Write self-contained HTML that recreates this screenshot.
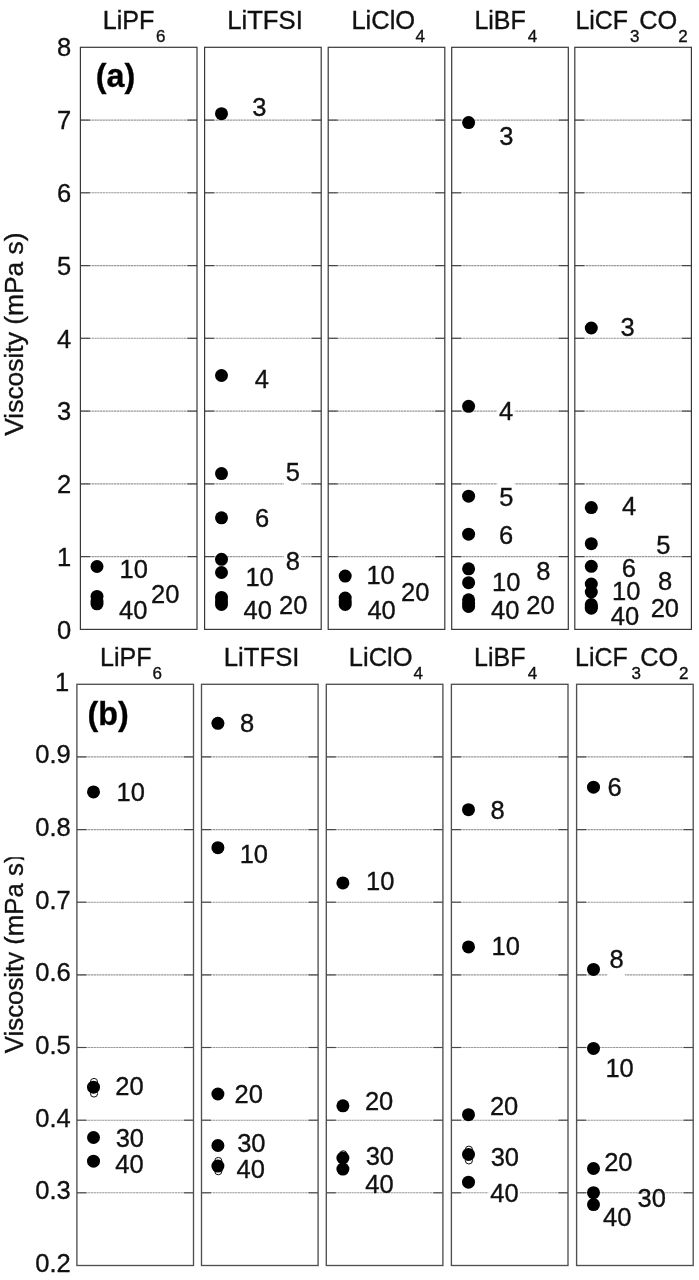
<!DOCTYPE html>
<html><head><meta charset="utf-8"><title>Viscosity</title>
<style>html,body{margin:0;padding:0;background:#fff}svg{display:block}text{font-family:"Liberation Sans",sans-serif;fill:#111;stroke:#111;stroke-width:0.35px}.l{font-size:25.5px}.t{font-size:25.5px}.s{font-size:17px}.y{font-size:26.4px}.b{font-size:32.3px;font-weight:bold;fill:#000}.g{stroke:#999;stroke-width:1.1;stroke-dasharray:2.3 0.5}.k{stroke:#484848;stroke-width:1.15}.f{fill:none;stroke:#383838;stroke-width:1.2}.f2{stroke:#505050;stroke-width:1.35}.h{fill:#fff;stroke:#111;stroke-width:1}.w{fill:#fff}</style></head><body>
<svg width="699" height="1280" viewBox="0 0 699 1280">
<rect width="699" height="1280" fill="#fff"/>
<line class="g" x1="80.4" y1="556.6" x2="197.0" y2="556.6"/>
<line class="k" x1="80.4" y1="556.6" x2="89.9" y2="556.6"/>
<line class="k" x1="187.5" y1="556.6" x2="197.0" y2="556.6"/>
<line class="g" x1="80.4" y1="483.9" x2="197.0" y2="483.9"/>
<line class="k" x1="80.4" y1="483.9" x2="89.9" y2="483.9"/>
<line class="k" x1="187.5" y1="483.9" x2="197.0" y2="483.9"/>
<line class="g" x1="80.4" y1="411.1" x2="197.0" y2="411.1"/>
<line class="k" x1="80.4" y1="411.1" x2="89.9" y2="411.1"/>
<line class="k" x1="187.5" y1="411.1" x2="197.0" y2="411.1"/>
<line class="g" x1="80.4" y1="338.3" x2="197.0" y2="338.3"/>
<line class="k" x1="80.4" y1="338.3" x2="89.9" y2="338.3"/>
<line class="k" x1="187.5" y1="338.3" x2="197.0" y2="338.3"/>
<line class="g" x1="80.4" y1="265.6" x2="197.0" y2="265.6"/>
<line class="k" x1="80.4" y1="265.6" x2="89.9" y2="265.6"/>
<line class="k" x1="187.5" y1="265.6" x2="197.0" y2="265.6"/>
<line class="g" x1="80.4" y1="192.8" x2="197.0" y2="192.8"/>
<line class="k" x1="80.4" y1="192.8" x2="89.9" y2="192.8"/>
<line class="k" x1="187.5" y1="192.8" x2="197.0" y2="192.8"/>
<line class="g" x1="80.4" y1="120.1" x2="197.0" y2="120.1"/>
<line class="k" x1="80.4" y1="120.1" x2="89.9" y2="120.1"/>
<line class="k" x1="187.5" y1="120.1" x2="197.0" y2="120.1"/>
<rect class="f" x="80.4" y="47.3" width="116.6" height="582.1"/>
<circle cx="97.0" cy="566.5" r="6.5" fill="#000"/>
<circle cx="97.0" cy="596.4" r="6.5" fill="#000"/>
<circle cx="97.0" cy="601.4" r="6.5" fill="#000"/>
<circle cx="97.0" cy="603.8" r="6.5" fill="#000"/>
<text class="l" x="119.6" y="577.9">10</text>
<text class="l" x="151.0" y="603.0">20</text>
<text class="l" x="119.1" y="618.7">40</text>
<line class="g" x1="204.6" y1="556.6" x2="321.2" y2="556.6"/>
<line class="k" x1="204.6" y1="556.6" x2="214.1" y2="556.6"/>
<line class="k" x1="311.7" y1="556.6" x2="321.2" y2="556.6"/>
<line class="g" x1="204.6" y1="483.9" x2="321.2" y2="483.9"/>
<line class="k" x1="204.6" y1="483.9" x2="214.1" y2="483.9"/>
<line class="k" x1="311.7" y1="483.9" x2="321.2" y2="483.9"/>
<line class="g" x1="204.6" y1="411.1" x2="321.2" y2="411.1"/>
<line class="k" x1="204.6" y1="411.1" x2="214.1" y2="411.1"/>
<line class="k" x1="311.7" y1="411.1" x2="321.2" y2="411.1"/>
<line class="g" x1="204.6" y1="338.3" x2="321.2" y2="338.3"/>
<line class="k" x1="204.6" y1="338.3" x2="214.1" y2="338.3"/>
<line class="k" x1="311.7" y1="338.3" x2="321.2" y2="338.3"/>
<line class="g" x1="204.6" y1="265.6" x2="321.2" y2="265.6"/>
<line class="k" x1="204.6" y1="265.6" x2="214.1" y2="265.6"/>
<line class="k" x1="311.7" y1="265.6" x2="321.2" y2="265.6"/>
<line class="g" x1="204.6" y1="192.8" x2="321.2" y2="192.8"/>
<line class="k" x1="204.6" y1="192.8" x2="214.1" y2="192.8"/>
<line class="k" x1="311.7" y1="192.8" x2="321.2" y2="192.8"/>
<line class="g" x1="204.6" y1="120.1" x2="321.2" y2="120.1"/>
<line class="k" x1="204.6" y1="120.1" x2="214.1" y2="120.1"/>
<line class="k" x1="311.7" y1="120.1" x2="321.2" y2="120.1"/>
<rect class="w" x="283.8" y="457.3" width="17.5" height="33.0"/>
<rect class="w" x="283.7" y="546.2" width="17.5" height="33.0"/>
<rect class="f" x="204.6" y="47.3" width="116.6" height="582.1"/>
<circle cx="221.5" cy="113.7" r="6.5" fill="#000"/>
<circle cx="221.5" cy="375.5" r="6.5" fill="#000"/>
<circle cx="221.5" cy="473.6" r="6.5" fill="#000"/>
<circle cx="221.5" cy="517.8" r="6.5" fill="#000"/>
<circle cx="221.5" cy="559.3" r="6.5" fill="#000"/>
<circle cx="221.5" cy="572.5" r="6.5" fill="#000"/>
<circle cx="221.5" cy="597.4" r="6.5" fill="#000"/>
<circle cx="221.5" cy="601.5" r="6.5" fill="#000"/>
<circle cx="221.5" cy="604.5" r="6.5" fill="#000"/>
<text class="l" x="252.2" y="115.5">3</text>
<text class="l" x="254.8" y="388.1">4</text>
<text class="l" x="285.8" y="481.3">5</text>
<text class="l" x="254.9" y="526.7">6</text>
<text class="l" x="285.7" y="570.2">8</text>
<text class="l" x="245.4" y="585.7">10</text>
<text class="l" x="279.1" y="613.8">20</text>
<text class="l" x="243.6" y="618.8">40</text>
<line class="g" x1="328.2" y1="556.6" x2="444.8" y2="556.6"/>
<line class="k" x1="328.2" y1="556.6" x2="337.7" y2="556.6"/>
<line class="k" x1="435.3" y1="556.6" x2="444.8" y2="556.6"/>
<line class="g" x1="328.2" y1="483.9" x2="444.8" y2="483.9"/>
<line class="k" x1="328.2" y1="483.9" x2="337.7" y2="483.9"/>
<line class="k" x1="435.3" y1="483.9" x2="444.8" y2="483.9"/>
<line class="g" x1="328.2" y1="411.1" x2="444.8" y2="411.1"/>
<line class="k" x1="328.2" y1="411.1" x2="337.7" y2="411.1"/>
<line class="k" x1="435.3" y1="411.1" x2="444.8" y2="411.1"/>
<line class="g" x1="328.2" y1="338.3" x2="444.8" y2="338.3"/>
<line class="k" x1="328.2" y1="338.3" x2="337.7" y2="338.3"/>
<line class="k" x1="435.3" y1="338.3" x2="444.8" y2="338.3"/>
<line class="g" x1="328.2" y1="265.6" x2="444.8" y2="265.6"/>
<line class="k" x1="328.2" y1="265.6" x2="337.7" y2="265.6"/>
<line class="k" x1="435.3" y1="265.6" x2="444.8" y2="265.6"/>
<line class="g" x1="328.2" y1="192.8" x2="444.8" y2="192.8"/>
<line class="k" x1="328.2" y1="192.8" x2="337.7" y2="192.8"/>
<line class="k" x1="435.3" y1="192.8" x2="444.8" y2="192.8"/>
<line class="g" x1="328.2" y1="120.1" x2="444.8" y2="120.1"/>
<line class="k" x1="328.2" y1="120.1" x2="337.7" y2="120.1"/>
<line class="k" x1="435.3" y1="120.1" x2="444.8" y2="120.1"/>
<rect class="f" x="328.2" y="47.3" width="116.6" height="582.1"/>
<circle cx="345.2" cy="576.1" r="6.5" fill="#000"/>
<circle cx="345.2" cy="598.0" r="6.5" fill="#000"/>
<circle cx="345.2" cy="602.0" r="6.5" fill="#000"/>
<circle cx="345.2" cy="604.5" r="6.5" fill="#000"/>
<text class="l" x="366.4" y="584.3">10</text>
<text class="l" x="401.0" y="600.8">20</text>
<text class="l" x="367.4" y="618.7">40</text>
<line class="g" x1="451.7" y1="556.6" x2="568.3" y2="556.6"/>
<line class="k" x1="451.7" y1="556.6" x2="461.2" y2="556.6"/>
<line class="k" x1="558.8" y1="556.6" x2="568.3" y2="556.6"/>
<line class="g" x1="451.7" y1="483.9" x2="568.3" y2="483.9"/>
<line class="k" x1="451.7" y1="483.9" x2="461.2" y2="483.9"/>
<line class="k" x1="558.8" y1="483.9" x2="568.3" y2="483.9"/>
<line class="g" x1="451.7" y1="411.1" x2="568.3" y2="411.1"/>
<line class="k" x1="451.7" y1="411.1" x2="461.2" y2="411.1"/>
<line class="k" x1="558.8" y1="411.1" x2="568.3" y2="411.1"/>
<line class="g" x1="451.7" y1="338.3" x2="568.3" y2="338.3"/>
<line class="k" x1="451.7" y1="338.3" x2="461.2" y2="338.3"/>
<line class="k" x1="558.8" y1="338.3" x2="568.3" y2="338.3"/>
<line class="g" x1="451.7" y1="265.6" x2="568.3" y2="265.6"/>
<line class="k" x1="451.7" y1="265.6" x2="461.2" y2="265.6"/>
<line class="k" x1="558.8" y1="265.6" x2="568.3" y2="265.6"/>
<line class="g" x1="451.7" y1="192.8" x2="568.3" y2="192.8"/>
<line class="k" x1="451.7" y1="192.8" x2="461.2" y2="192.8"/>
<line class="k" x1="558.8" y1="192.8" x2="568.3" y2="192.8"/>
<line class="g" x1="451.7" y1="120.1" x2="568.3" y2="120.1"/>
<line class="k" x1="451.7" y1="120.1" x2="461.2" y2="120.1"/>
<line class="k" x1="558.8" y1="120.1" x2="568.3" y2="120.1"/>
<rect class="w" x="497.1" y="396.3" width="17.5" height="33.0"/>
<rect class="w" x="497.3" y="482.1" width="17.5" height="33.0"/>
<rect class="f" x="451.7" y="47.3" width="116.6" height="582.1"/>
<circle cx="468.6" cy="122.6" r="6.5" fill="#000"/>
<circle cx="468.6" cy="406.3" r="6.5" fill="#000"/>
<circle cx="468.6" cy="496.2" r="6.5" fill="#000"/>
<circle cx="468.6" cy="534.2" r="6.5" fill="#000"/>
<circle cx="468.6" cy="568.8" r="6.5" fill="#000"/>
<circle cx="468.6" cy="582.7" r="6.5" fill="#000"/>
<circle cx="468.6" cy="599.8" r="6.5" fill="#000"/>
<circle cx="468.6" cy="603.5" r="6.5" fill="#000"/>
<circle cx="468.6" cy="606.5" r="6.5" fill="#000"/>
<text class="l" x="499.3" y="145.0">3</text>
<text class="l" x="499.1" y="420.3">4</text>
<text class="l" x="499.3" y="506.1">5</text>
<text class="l" x="499.0" y="544.0">6</text>
<text class="l" x="536.2" y="579.5">8</text>
<text class="l" x="492.1" y="590.7">10</text>
<text class="l" x="526.3" y="613.8">20</text>
<text class="l" x="491.1" y="618.8">40</text>
<line class="g" x1="574.8" y1="556.6" x2="691.4" y2="556.6"/>
<line class="k" x1="574.8" y1="556.6" x2="584.3" y2="556.6"/>
<line class="k" x1="681.9" y1="556.6" x2="691.4" y2="556.6"/>
<line class="g" x1="574.8" y1="483.9" x2="691.4" y2="483.9"/>
<line class="k" x1="574.8" y1="483.9" x2="584.3" y2="483.9"/>
<line class="k" x1="681.9" y1="483.9" x2="691.4" y2="483.9"/>
<line class="g" x1="574.8" y1="411.1" x2="691.4" y2="411.1"/>
<line class="k" x1="574.8" y1="411.1" x2="584.3" y2="411.1"/>
<line class="k" x1="681.9" y1="411.1" x2="691.4" y2="411.1"/>
<line class="g" x1="574.8" y1="338.3" x2="691.4" y2="338.3"/>
<line class="k" x1="574.8" y1="338.3" x2="584.3" y2="338.3"/>
<line class="k" x1="681.9" y1="338.3" x2="691.4" y2="338.3"/>
<line class="g" x1="574.8" y1="265.6" x2="691.4" y2="265.6"/>
<line class="k" x1="574.8" y1="265.6" x2="584.3" y2="265.6"/>
<line class="k" x1="681.9" y1="265.6" x2="691.4" y2="265.6"/>
<line class="g" x1="574.8" y1="192.8" x2="691.4" y2="192.8"/>
<line class="k" x1="574.8" y1="192.8" x2="584.3" y2="192.8"/>
<line class="k" x1="681.9" y1="192.8" x2="691.4" y2="192.8"/>
<line class="g" x1="574.8" y1="120.1" x2="691.4" y2="120.1"/>
<line class="k" x1="574.8" y1="120.1" x2="584.3" y2="120.1"/>
<line class="k" x1="681.9" y1="120.1" x2="691.4" y2="120.1"/>
<rect class="f" x="574.8" y="47.3" width="116.6" height="582.1"/>
<circle cx="591.3" cy="328.0" r="6.5" fill="#000"/>
<circle cx="591.3" cy="507.6" r="6.5" fill="#000"/>
<circle cx="591.3" cy="543.7" r="6.5" fill="#000"/>
<circle cx="591.3" cy="566.3" r="6.5" fill="#000"/>
<circle cx="591.3" cy="584.0" r="6.5" fill="#000"/>
<circle cx="591.3" cy="592.0" r="6.5" fill="#000"/>
<circle cx="591.3" cy="604.6" r="6.5" fill="#000"/>
<circle cx="591.3" cy="607.0" r="6.5" fill="#000"/>
<circle cx="591.3" cy="608.2" r="6.5" fill="#000"/>
<text class="l" x="620.6" y="335.7">3</text>
<text class="l" x="621.9" y="515.1">4</text>
<text class="l" x="656.3" y="553.6">5</text>
<text class="l" x="621.7" y="577.3">6</text>
<text class="l" x="658.0" y="590.2">8</text>
<text class="l" x="612.0" y="600.4">10</text>
<text class="l" x="650.7" y="617.0">20</text>
<text class="l" x="610.8" y="624.5">40</text>
<line class="g" x1="76.9" y1="1192.8" x2="193.5" y2="1192.8"/>
<line class="k" x1="76.9" y1="1192.8" x2="86.4" y2="1192.8"/>
<line class="k" x1="184.0" y1="1192.8" x2="193.5" y2="1192.8"/>
<line class="g" x1="76.9" y1="1120.2" x2="193.5" y2="1120.2"/>
<line class="k" x1="76.9" y1="1120.2" x2="86.4" y2="1120.2"/>
<line class="k" x1="184.0" y1="1120.2" x2="193.5" y2="1120.2"/>
<line class="g" x1="76.9" y1="1047.5" x2="193.5" y2="1047.5"/>
<line class="k" x1="76.9" y1="1047.5" x2="86.4" y2="1047.5"/>
<line class="k" x1="184.0" y1="1047.5" x2="193.5" y2="1047.5"/>
<line class="g" x1="76.9" y1="974.9" x2="193.5" y2="974.9"/>
<line class="k" x1="76.9" y1="974.9" x2="86.4" y2="974.9"/>
<line class="k" x1="184.0" y1="974.9" x2="193.5" y2="974.9"/>
<line class="g" x1="76.9" y1="902.2" x2="193.5" y2="902.2"/>
<line class="k" x1="76.9" y1="902.2" x2="86.4" y2="902.2"/>
<line class="k" x1="184.0" y1="902.2" x2="193.5" y2="902.2"/>
<line class="g" x1="76.9" y1="829.6" x2="193.5" y2="829.6"/>
<line class="k" x1="76.9" y1="829.6" x2="86.4" y2="829.6"/>
<line class="k" x1="184.0" y1="829.6" x2="193.5" y2="829.6"/>
<line class="g" x1="76.9" y1="756.9" x2="193.5" y2="756.9"/>
<line class="k" x1="76.9" y1="756.9" x2="86.4" y2="756.9"/>
<line class="k" x1="184.0" y1="756.9" x2="193.5" y2="756.9"/>
<rect class="f f2" x="76.9" y="684.3" width="116.6" height="581.2"/>
<circle class="h" cx="94.0" cy="1082.0" r="3.6"/>
<circle class="h" cx="94.0" cy="1093.5" r="3.6"/>
<circle cx="93.5" cy="791.9" r="6.5" fill="#000"/>
<circle cx="93.5" cy="1087.2" r="6.5" fill="#000"/>
<circle cx="93.5" cy="1137.5" r="6.5" fill="#000"/>
<circle cx="93.5" cy="1161.2" r="6.5" fill="#000"/>
<text class="l" x="116.6" y="800.7">10</text>
<text class="l" x="115.3" y="1095.4">20</text>
<text class="l" x="115.7" y="1147.2">30</text>
<text class="l" x="115.3" y="1172.8">40</text>
<line class="g" x1="201.5" y1="1192.8" x2="318.1" y2="1192.8"/>
<line class="k" x1="201.5" y1="1192.8" x2="211.0" y2="1192.8"/>
<line class="k" x1="308.6" y1="1192.8" x2="318.1" y2="1192.8"/>
<line class="g" x1="201.5" y1="1120.2" x2="318.1" y2="1120.2"/>
<line class="k" x1="201.5" y1="1120.2" x2="211.0" y2="1120.2"/>
<line class="k" x1="308.6" y1="1120.2" x2="318.1" y2="1120.2"/>
<line class="g" x1="201.5" y1="1047.5" x2="318.1" y2="1047.5"/>
<line class="k" x1="201.5" y1="1047.5" x2="211.0" y2="1047.5"/>
<line class="k" x1="308.6" y1="1047.5" x2="318.1" y2="1047.5"/>
<line class="g" x1="201.5" y1="974.9" x2="318.1" y2="974.9"/>
<line class="k" x1="201.5" y1="974.9" x2="211.0" y2="974.9"/>
<line class="k" x1="308.6" y1="974.9" x2="318.1" y2="974.9"/>
<line class="g" x1="201.5" y1="902.2" x2="318.1" y2="902.2"/>
<line class="k" x1="201.5" y1="902.2" x2="211.0" y2="902.2"/>
<line class="k" x1="308.6" y1="902.2" x2="318.1" y2="902.2"/>
<line class="g" x1="201.5" y1="829.6" x2="318.1" y2="829.6"/>
<line class="k" x1="201.5" y1="829.6" x2="211.0" y2="829.6"/>
<line class="k" x1="308.6" y1="829.6" x2="318.1" y2="829.6"/>
<line class="g" x1="201.5" y1="756.9" x2="318.1" y2="756.9"/>
<line class="k" x1="201.5" y1="756.9" x2="211.0" y2="756.9"/>
<line class="k" x1="308.6" y1="756.9" x2="318.1" y2="756.9"/>
<rect class="f f2" x="201.5" y="684.3" width="116.6" height="581.2"/>
<circle class="h" cx="218.3" cy="1161.0" r="3.6"/>
<circle class="h" cx="218.3" cy="1171.2" r="3.6"/>
<circle cx="217.9" cy="723.3" r="6.5" fill="#000"/>
<circle cx="217.9" cy="847.7" r="6.5" fill="#000"/>
<circle cx="217.9" cy="1094.0" r="6.5" fill="#000"/>
<circle cx="217.9" cy="1145.5" r="6.5" fill="#000"/>
<circle cx="217.9" cy="1166.1" r="6.5" fill="#000"/>
<text class="l" x="240.1" y="731.6">8</text>
<text class="l" x="239.7" y="862.5">10</text>
<text class="l" x="234.5" y="1103.4">20</text>
<text class="l" x="237.2" y="1151.7">30</text>
<text class="l" x="236.5" y="1177.6">40</text>
<line class="g" x1="326.3" y1="1192.8" x2="442.9" y2="1192.8"/>
<line class="k" x1="326.3" y1="1192.8" x2="335.8" y2="1192.8"/>
<line class="k" x1="433.4" y1="1192.8" x2="442.9" y2="1192.8"/>
<line class="g" x1="326.3" y1="1120.2" x2="442.9" y2="1120.2"/>
<line class="k" x1="326.3" y1="1120.2" x2="335.8" y2="1120.2"/>
<line class="k" x1="433.4" y1="1120.2" x2="442.9" y2="1120.2"/>
<line class="g" x1="326.3" y1="1047.5" x2="442.9" y2="1047.5"/>
<line class="k" x1="326.3" y1="1047.5" x2="335.8" y2="1047.5"/>
<line class="k" x1="433.4" y1="1047.5" x2="442.9" y2="1047.5"/>
<line class="g" x1="326.3" y1="974.9" x2="442.9" y2="974.9"/>
<line class="k" x1="326.3" y1="974.9" x2="335.8" y2="974.9"/>
<line class="k" x1="433.4" y1="974.9" x2="442.9" y2="974.9"/>
<line class="g" x1="326.3" y1="902.2" x2="442.9" y2="902.2"/>
<line class="k" x1="326.3" y1="902.2" x2="335.8" y2="902.2"/>
<line class="k" x1="433.4" y1="902.2" x2="442.9" y2="902.2"/>
<line class="g" x1="326.3" y1="829.6" x2="442.9" y2="829.6"/>
<line class="k" x1="326.3" y1="829.6" x2="335.8" y2="829.6"/>
<line class="k" x1="433.4" y1="829.6" x2="442.9" y2="829.6"/>
<line class="g" x1="326.3" y1="756.9" x2="442.9" y2="756.9"/>
<line class="k" x1="326.3" y1="756.9" x2="335.8" y2="756.9"/>
<line class="k" x1="433.4" y1="756.9" x2="442.9" y2="756.9"/>
<rect class="f f2" x="326.3" y="684.3" width="116.6" height="581.2"/>
<circle class="h" cx="343.3" cy="1154.3" r="3.6"/>
<circle cx="342.9" cy="882.9" r="6.5" fill="#000"/>
<circle cx="342.9" cy="1105.8" r="6.5" fill="#000"/>
<circle cx="342.9" cy="1158.0" r="6.5" fill="#000"/>
<circle cx="342.9" cy="1169.1" r="6.5" fill="#000"/>
<text class="l" x="366.1" y="889.6">10</text>
<text class="l" x="364.9" y="1110.0">20</text>
<text class="l" x="365.7" y="1164.5">30</text>
<text class="l" x="365.3" y="1192.8">40</text>
<line class="g" x1="451.4" y1="1192.8" x2="568.0" y2="1192.8"/>
<line class="k" x1="451.4" y1="1192.8" x2="460.9" y2="1192.8"/>
<line class="k" x1="558.5" y1="1192.8" x2="568.0" y2="1192.8"/>
<line class="g" x1="451.4" y1="1120.2" x2="568.0" y2="1120.2"/>
<line class="k" x1="451.4" y1="1120.2" x2="460.9" y2="1120.2"/>
<line class="k" x1="558.5" y1="1120.2" x2="568.0" y2="1120.2"/>
<line class="g" x1="451.4" y1="1047.5" x2="568.0" y2="1047.5"/>
<line class="k" x1="451.4" y1="1047.5" x2="460.9" y2="1047.5"/>
<line class="k" x1="558.5" y1="1047.5" x2="568.0" y2="1047.5"/>
<line class="g" x1="451.4" y1="974.9" x2="568.0" y2="974.9"/>
<line class="k" x1="451.4" y1="974.9" x2="460.9" y2="974.9"/>
<line class="k" x1="558.5" y1="974.9" x2="568.0" y2="974.9"/>
<line class="g" x1="451.4" y1="902.2" x2="568.0" y2="902.2"/>
<line class="k" x1="451.4" y1="902.2" x2="460.9" y2="902.2"/>
<line class="k" x1="558.5" y1="902.2" x2="568.0" y2="902.2"/>
<line class="g" x1="451.4" y1="829.6" x2="568.0" y2="829.6"/>
<line class="k" x1="451.4" y1="829.6" x2="460.9" y2="829.6"/>
<line class="k" x1="558.5" y1="829.6" x2="568.0" y2="829.6"/>
<line class="g" x1="451.4" y1="756.9" x2="568.0" y2="756.9"/>
<line class="k" x1="451.4" y1="756.9" x2="460.9" y2="756.9"/>
<line class="k" x1="558.5" y1="756.9" x2="568.0" y2="756.9"/>
<rect class="w" x="488.3" y="1177.8" width="31.7" height="33.0"/>
<rect class="f f2" x="451.4" y="684.3" width="116.6" height="581.2"/>
<circle class="h" cx="468.9" cy="1149.7" r="3.6"/>
<circle class="h" cx="468.9" cy="1160.4" r="3.6"/>
<circle cx="468.5" cy="809.7" r="6.5" fill="#000"/>
<circle cx="468.5" cy="946.9" r="6.5" fill="#000"/>
<circle cx="468.5" cy="1114.7" r="6.5" fill="#000"/>
<circle cx="468.5" cy="1154.4" r="6.5" fill="#000"/>
<circle cx="468.5" cy="1182.2" r="6.5" fill="#000"/>
<text class="l" x="490.5" y="818.6">8</text>
<text class="l" x="491.6" y="954.5">10</text>
<text class="l" x="489.9" y="1114.6">20</text>
<text class="l" x="490.7" y="1166.3">30</text>
<text class="l" x="490.3" y="1201.7">40</text>
<line class="g" x1="576.6" y1="1192.8" x2="693.2" y2="1192.8"/>
<line class="k" x1="576.6" y1="1192.8" x2="586.1" y2="1192.8"/>
<line class="k" x1="683.7" y1="1192.8" x2="693.2" y2="1192.8"/>
<line class="g" x1="576.6" y1="1120.2" x2="693.2" y2="1120.2"/>
<line class="k" x1="576.6" y1="1120.2" x2="586.1" y2="1120.2"/>
<line class="k" x1="683.7" y1="1120.2" x2="693.2" y2="1120.2"/>
<line class="g" x1="576.6" y1="1047.5" x2="693.2" y2="1047.5"/>
<line class="k" x1="576.6" y1="1047.5" x2="586.1" y2="1047.5"/>
<line class="k" x1="683.7" y1="1047.5" x2="693.2" y2="1047.5"/>
<line class="g" x1="576.6" y1="974.9" x2="693.2" y2="974.9"/>
<line class="k" x1="576.6" y1="974.9" x2="586.1" y2="974.9"/>
<line class="k" x1="683.7" y1="974.9" x2="693.2" y2="974.9"/>
<line class="g" x1="576.6" y1="902.2" x2="693.2" y2="902.2"/>
<line class="k" x1="576.6" y1="902.2" x2="586.1" y2="902.2"/>
<line class="k" x1="683.7" y1="902.2" x2="693.2" y2="902.2"/>
<line class="g" x1="576.6" y1="829.6" x2="693.2" y2="829.6"/>
<line class="k" x1="576.6" y1="829.6" x2="586.1" y2="829.6"/>
<line class="k" x1="683.7" y1="829.6" x2="693.2" y2="829.6"/>
<line class="g" x1="576.6" y1="756.9" x2="693.2" y2="756.9"/>
<line class="k" x1="576.6" y1="756.9" x2="586.1" y2="756.9"/>
<line class="k" x1="683.7" y1="756.9" x2="693.2" y2="756.9"/>
<rect class="w" x="607.4" y="943.8" width="17.5" height="33.0"/>
<rect class="f f2" x="576.6" y="684.3" width="116.6" height="581.2"/>
<circle cx="593.5" cy="787.2" r="6.5" fill="#000"/>
<circle cx="593.5" cy="969.4" r="6.5" fill="#000"/>
<circle cx="593.5" cy="1048.4" r="6.5" fill="#000"/>
<circle cx="593.5" cy="1168.5" r="6.5" fill="#000"/>
<circle cx="593.5" cy="1192.7" r="6.5" fill="#000"/>
<circle cx="593.5" cy="1204.6" r="6.5" fill="#000"/>
<text class="l" x="607.4" y="795.9">6</text>
<text class="l" x="609.4" y="967.7">8</text>
<text class="l" x="605.4" y="1077.3">10</text>
<text class="l" x="604.2" y="1171.1">20</text>
<text class="l" x="637.6" y="1206.5">30</text>
<text class="l" x="603.1" y="1225.6">40</text>
<text class="l" text-anchor="end" x="71.2" y="638.6">0</text>
<text class="l" text-anchor="end" x="71.2" y="565.8">1</text>
<text class="l" text-anchor="end" x="71.2" y="493.1">2</text>
<text class="l" text-anchor="end" x="71.2" y="420.3">3</text>
<text class="l" text-anchor="end" x="71.2" y="347.5">4</text>
<text class="l" text-anchor="end" x="71.2" y="274.8">5</text>
<text class="l" text-anchor="end" x="71.2" y="202.0">6</text>
<text class="l" text-anchor="end" x="71.2" y="129.3">7</text>
<text class="l" text-anchor="end" x="71.2" y="56.0">8</text>
<text class="l" text-anchor="end" x="70.8" y="1271.8">0.2</text>
<text class="l" text-anchor="end" x="70.8" y="1199.1">0.3</text>
<text class="l" text-anchor="end" x="70.8" y="1126.5">0.4</text>
<text class="l" text-anchor="end" x="70.8" y="1053.8">0.5</text>
<text class="l" text-anchor="end" x="70.8" y="981.2">0.6</text>
<text class="l" text-anchor="end" x="70.8" y="908.5">0.7</text>
<text class="l" text-anchor="end" x="70.8" y="835.9">0.8</text>
<text class="l" text-anchor="end" x="70.8" y="763.2">0.9</text>
<text class="l" text-anchor="end" x="69.2" y="690.6">1</text>
<text class="y" transform="translate(23,435.8) rotate(-90)">Viscosity (mPa s)</text>
<g clip-path="url(#cb)"><text class="y" style="font-size:25.8px" transform="translate(23.1,1053.2) rotate(-90)">Viscosity (mPa s)</text></g>
<defs><clipPath id="cb"><rect x="0" y="857.3" width="24.2" height="300"/></clipPath></defs>
<text class="t" style="font-size:25.1px" x="102.8" y="28.8">LiPF</text>
<text class="s" x="156.0" y="41.9">6</text>
<text class="t" style="font-size:25.7px" x="227.2" y="28.8">LiTFSI</text>
<text class="t" style="font-size:25.5px" x="351.4" y="28.8">LiClO</text>
<text class="s" x="415.4" y="41.9">4</text>
<text class="t" style="font-size:25.0px" x="474.4" y="28.8">LiBF</text>
<text class="s" x="527.8" y="41.9">4</text>
<text class="t" style="font-size:24.9px" x="575.4" y="28.8">LiCF</text>
<text class="s" x="629.9" y="41.9">3</text>
<text class="t" style="font-size:25.3px" x="639.3" y="28.8">CO</text>
<text class="s" x="678.3" y="41.9">2</text>
<text class="t" style="font-size:25.1px" x="100.1" y="666.2">LiPF</text>
<text class="s" x="152.4" y="679.2">6</text>
<text class="t" style="font-size:25.7px" x="223.8" y="666.2">LiTFSI</text>
<text class="t" style="font-size:25.5px" x="348.8" y="666.2">LiClO</text>
<text class="s" x="413.4" y="679.2">4</text>
<text class="t" style="font-size:25.0px" x="474.1" y="666.2">LiBF</text>
<text class="s" x="527.8" y="679.2">4</text>
<text class="t" style="font-size:24.9px" x="575.1" y="666.2">LiCF</text>
<text class="s" x="631.4" y="679.2">3</text>
<text class="t" style="font-size:25.3px" x="640.2" y="666.2">CO</text>
<text class="s" x="679.1" y="679.2">2</text>
<text class="b" x="95.7" y="87.3">(a)</text>
<text class="b" x="87.5" y="724.6">(b)</text>
</svg></body></html>
